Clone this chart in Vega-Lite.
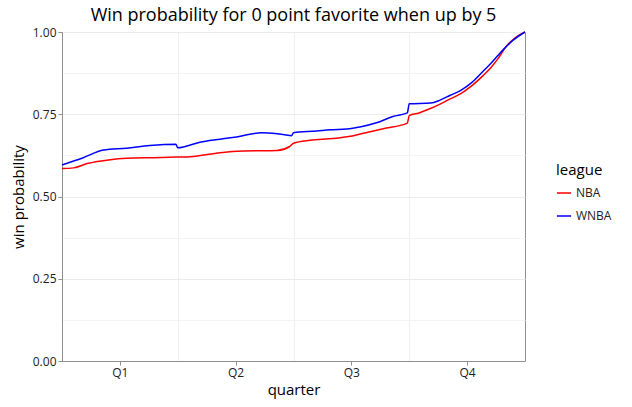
{
  "$schema": "https://vega.github.io/schema/vega-lite/v6.json",
  "width": 463,
  "height": 329,
  "autosize": "none",
  "padding": {"left": 62, "top": 32, "right": 107, "bottom": 46},
  "background": "white",
  "title": {"text": "Win probability for 0 point favorite when up by 5", "fontSize": 18, "fontWeight": "normal", "font": "Open Sans", "color": "#000000", "anchor": "middle", "offset": 1},
  "config": {
    "font": "Open Sans",
    "view": {"stroke": "#8f8f8f", "strokeWidth": 1},
    "axis": {"domainColor": "#8f8f8f", "tickColor": "#8f8f8f", "tickSize": 4, "labelColor": "#222222", "labelFontSize": 12, "labelPadding": 2, "titleFontSize": 15, "titleFontWeight": "normal", "titleColor": "#000000", "labelOverlap": false, "labelFont": "Open Sans", "titleFont": "Open Sans"}
  },
  "data": {"values": [
    {"minute": 0, "league": "NBA", "p": 0.585},
    {"minute": 1.2, "league": "NBA", "p": 0.587},
    {"minute": 2.6, "league": "NBA", "p": 0.600},
    {"minute": 5.0, "league": "NBA", "p": 0.612},
    {"minute": 6.7, "league": "NBA", "p": 0.616},
    {"minute": 9.5, "league": "NBA", "p": 0.618},
    {"minute": 11.9, "league": "NBA", "p": 0.620},
    {"minute": 13.3, "league": "NBA", "p": 0.621},
    {"minute": 16.4, "league": "NBA", "p": 0.633},
    {"minute": 18.8, "league": "NBA", "p": 0.638},
    {"minute": 22.3, "league": "NBA", "p": 0.640},
    {"minute": 23.6, "league": "NBA", "p": 0.652},
    {"minute": 24.0, "league": "NBA", "p": 0.662},
    {"minute": 25.7, "league": "NBA", "p": 0.671},
    {"minute": 28.1, "league": "NBA", "p": 0.676},
    {"minute": 29.9, "league": "NBA", "p": 0.683},
    {"minute": 31.5, "league": "NBA", "p": 0.694},
    {"minute": 33.3, "league": "NBA", "p": 0.706},
    {"minute": 35.8, "league": "NBA", "p": 0.723},
    {"minute": 36.0, "league": "NBA", "p": 0.746},
    {"minute": 37.0, "league": "NBA", "p": 0.754},
    {"minute": 38.0, "league": "NBA", "p": 0.765},
    {"minute": 39.2, "league": "NBA", "p": 0.781},
    {"minute": 40.2, "league": "NBA", "p": 0.796},
    {"minute": 41.3, "league": "NBA", "p": 0.812},
    {"minute": 42.5, "league": "NBA", "p": 0.837},
    {"minute": 43.7, "league": "NBA", "p": 0.869},
    {"minute": 44.5, "league": "NBA", "p": 0.893},
    {"minute": 45.2, "league": "NBA", "p": 0.919},
    {"minute": 46.1, "league": "NBA", "p": 0.958},
    {"minute": 46.8, "league": "NBA", "p": 0.978},
    {"minute": 48, "league": "NBA", "p": 1.0},
    {"minute": 0, "league": "WNBA", "p": 0.596},
    {"minute": 2.2, "league": "WNBA", "p": 0.618},
    {"minute": 4.3, "league": "WNBA", "p": 0.641},
    {"minute": 6.7, "league": "WNBA", "p": 0.647},
    {"minute": 9.1, "league": "WNBA", "p": 0.655},
    {"minute": 11.8, "league": "WNBA", "p": 0.659},
    {"minute": 12.0, "league": "WNBA", "p": 0.648},
    {"minute": 14.3, "league": "WNBA", "p": 0.665},
    {"minute": 16.4, "league": "WNBA", "p": 0.674},
    {"minute": 18.1, "league": "WNBA", "p": 0.681},
    {"minute": 20.7, "league": "WNBA", "p": 0.694},
    {"minute": 22.3, "league": "WNBA", "p": 0.691},
    {"minute": 23.8, "league": "WNBA", "p": 0.685},
    {"minute": 24.0, "league": "WNBA", "p": 0.694},
    {"minute": 26.4, "league": "WNBA", "p": 0.699},
    {"minute": 27.8, "league": "WNBA", "p": 0.703},
    {"minute": 29.5, "league": "WNBA", "p": 0.705},
    {"minute": 31.0, "league": "WNBA", "p": 0.712},
    {"minute": 32.6, "league": "WNBA", "p": 0.724},
    {"minute": 34.3, "league": "WNBA", "p": 0.743},
    {"minute": 35.8, "league": "WNBA", "p": 0.754},
    {"minute": 36.0, "league": "WNBA", "p": 0.782},
    {"minute": 38.2, "league": "WNBA", "p": 0.784},
    {"minute": 39.2, "league": "WNBA", "p": 0.793},
    {"minute": 40.2, "league": "WNBA", "p": 0.807},
    {"minute": 41.3, "league": "WNBA", "p": 0.822},
    {"minute": 42.5, "league": "WNBA", "p": 0.847},
    {"minute": 43.7, "league": "WNBA", "p": 0.882},
    {"minute": 44.5, "league": "WNBA", "p": 0.906},
    {"minute": 45.2, "league": "WNBA", "p": 0.929},
    {"minute": 45.8, "league": "WNBA", "p": 0.948},
    {"minute": 46.8, "league": "WNBA", "p": 0.976},
    {"minute": 48, "league": "WNBA", "p": 1.0}
  ]},
  "mark": {"type": "line", "interpolate": "monotone", "strokeWidth": 1.5},
  "encoding": {
    "x": {
      "field": "minute", "type": "quantitative",
      "scale": {"domain": [0, 48], "nice": false, "zero": false},
      "axis": {
        "title": "quarter",
        "titlePadding": 4,
        "values": [6, 12, 18, 24, 30, 36, 42],
        "labelExpr": "datum.value % 12 == 6 ? 'Q' + ((datum.value + 6) / 12) : ''",
        "tickOpacity": {"condition": {"test": "datum.value % 12 == 6", "value": 1}, "value": 0},
        "gridColor": "#f0f0f0",
        "gridOpacity": {"condition": {"test": "datum.value % 12 == 0", "value": 1}, "value": 0}
      }
    },
    "y": {
      "field": "p", "type": "quantitative",
      "scale": {"domain": [0, 1], "nice": false},
      "axis": {
        "title": "win probability",
        "titlePadding": 6,
        "values": [0, 0.125, 0.25, 0.375, 0.5, 0.625, 0.75, 0.875, 1],
        "labelExpr": "(datum.value * 4) % 1 == 0 ? format(datum.value, '.2f') : ''",
        "tickOpacity": {"condition": {"test": "(datum.value * 4) % 1 == 0", "value": 1}, "value": 0},
        "gridColor": {"condition": {"test": "(datum.value * 4) % 1 == 0", "value": "#ebebeb"}, "value": "#f4f4f4"}
      }
    },
    "color": {
      "field": "league", "type": "nominal",
      "scale": {"domain": ["NBA", "WNBA"], "range": ["#ff0000", "#0000ff"]},
      "legend": {
        "title": "league",
        "orient": "none",
        "legendX": 494,
        "legendY": 131,
        "titleFontSize": 15,
        "titleFontWeight": "normal",
        "titleColor": "#000000",
        "titlePadding": 7,
        "labelFontSize": 12,
        "labelColor": "#222222",
        "symbolType": "stroke",
        "symbolSize": 200,
        "symbolStrokeWidth": 1.5,
        "rowPadding": 9,
        "labelOffset": 4
      }
    }
  }
}
